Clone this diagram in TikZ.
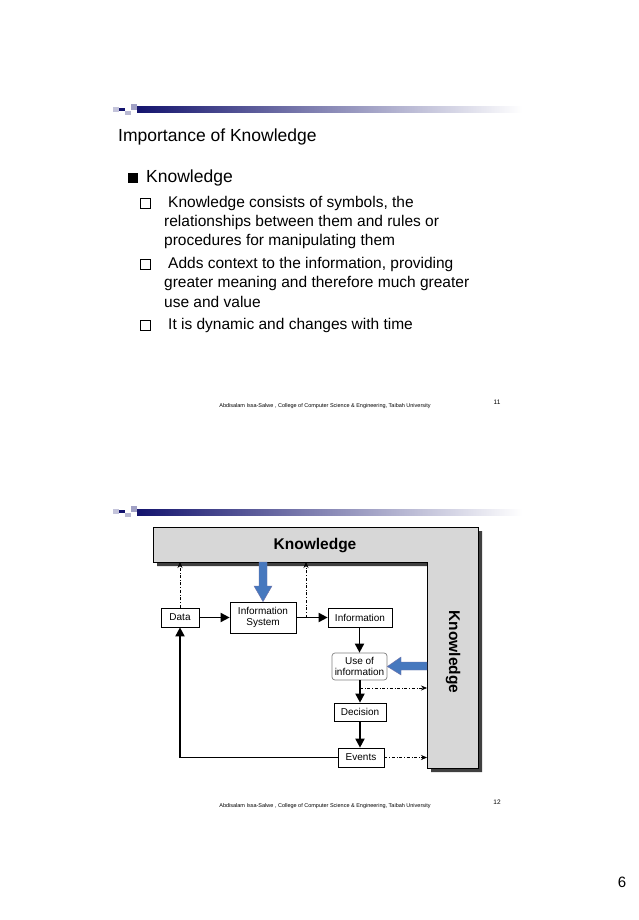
\documentclass[tikz,border=0pt]{standalone}
\usepackage{fontspec}
\setmainfont{Liberation Sans}
\usetikzlibrary{arrows.meta,calc}
\definecolor{navy}{RGB}{20,20,110}
\definecolor{boxgray}{RGB}{215,215,215}
\definecolor{arrblue}{RGB}{70,120,190}
\tikzset{
  flowbox/.style={draw=black,fill=white,line width=0.7pt,inner sep=0pt,font=\fontsize{10}{11}\selectfont,align=center},
  flow/.style={-{Triangle[length=9pt,width=9pt]},line width=1.8pt},
  dashflow/.style={-{Stealth[length=6pt,width=5pt]},dash dot,line width=0.6pt},
  bigarrow/.style={draw=navy!60,fill=arrblue,line width=0.4pt},
  bodytext/.style={anchor=west,inner sep=0pt,font=\fontsize{15.5}{18}\selectfont},
}
\newcommand{\hdr}[1]{%
  \fill[navy!25] (113,#1-3) rectangle (119,#1+2);
  \fill[navy] (119,#1-2) rectangle (125,#1+1);
  \fill[navy!30] (125,#1+1) rectangle (131,#1+5);
  \fill[navy!40] (131,#1-6) rectangle (137,#1);
  \shade[left color=navy,right color=white] (137,#1-3) rectangle (522,#1+3);
}
\begin{document}
\begin{tikzpicture}[x=1pt,y=-1pt]
\useasboundingbox[fill=white] (0,0) rectangle (638,920);
% slide 1
\hdr{110}
\node[bodytext,font=\fontsize{17.5}{20}\selectfont] (title) at (118,137) {Importance of Knowledge};
\fill (128,173) rectangle (138,183);
\node[bodytext,font=\fontsize{17.5}{20}\selectfont] (kn) at (146,178) {Knowledge};
\foreach \y in {203,264,325}{\draw[line width=0.5pt] (140,\y-5) rectangle (150,\y+5);}
\node[bodytext] (l1) at (168,203) {Knowledge consists of symbols, the};
\node[bodytext] (l2) at (164,222) {relationships between them and rules or};
\node[bodytext] (l3) at (164,241) {procedures for manipulating them};
\node[bodytext] (l4) at (168,264) {Adds context to the information, providing};
\node[bodytext] (l5) at (164,283) {greater meaning and therefore much greater};
\node[bodytext] (l6) at (164,302) {use and value};
\node[bodytext] (l7) at (168,325) {It is dynamic and changes with time};
\node[font=\fontsize{5.5}{6}\selectfont] (f1) at (325,406) {Abdisalam Issa-Salwe , College of Computer Science \& Engineering, Taibah University};
\node[font=\fontsize{6.5}{7}\selectfont] (n1) at (497,402) {11};
% slide 2
\hdr{512}
% L-shaped Knowledge frame with shadow
\fill[black!75] (157,531) -- (482,531) -- (482,772) -- (431,772) -- (431,566) -- (157,566) -- cycle;
\draw[fill=boxgray,line width=0.5pt] (153,527) -- (478,527) -- (478,768) -- (427,768) -- (427,562) -- (153,562) -- cycle;
\node[font=\bfseries\fontsize{15.5}{17}\selectfont] (ktop) at (315,546) {Knowledge};
\node[font=\bfseries\fontsize{15.5}{17}\selectfont,rotate=-90] (kside) at (453,652) {Knowledge};
\coordinate (topbar) at (263,562);
\coordinate (sidebar) at (427,666);
% boxes
\node[flowbox,minimum width=38pt,minimum height=19pt] (data) at (180,617.5) {Data};
\node[flowbox,minimum width=66pt,minimum height=31pt] (is) at (263,617.5) {Information\\System};
\node[flowbox,minimum width=64pt,minimum height=19pt] (info) at (360,617.5) {Information};
\node[flowbox,draw=black!50,rounded corners=3pt,minimum width=55pt,minimum height=27pt] (use) at (359.5,666.5) {Use of\\information};
\node[flowbox,minimum width=52pt,minimum height=18pt] (dec) at (360,712) {Decision};
\node[flowbox,minimum width=46pt,minimum height=19pt] (ev) at (361,757.5) {Events};
% flow arrows
\draw[flow] (data) -- (is);
\draw[flow] (is) -- (info);
\draw[flow] (info.south -| use) -- (use);
\draw[flow] (use.south -| dec) -- (dec);
\draw[flow] (dec) -- (ev.north -| dec);
\draw[flow] (ev.west) -- (ev.west -| data) -- (data.south);
% dashed
\draw[dashflow] (data.north) -- (data.north |- topbar);
\coordinate (split) at (306,617.5);
\draw[dashflow] (split) -- (split |- topbar);
\coordinate (usedash) at (360,688);
\draw[dashflow] (usedash) -- (usedash -| sidebar);
\draw[dashflow] (ev.east) -- (ev.east -| sidebar);
% blue arrows
\draw[bigarrow] ($(topbar)+(-4,0)$) -- ++(0,24) -- ++(-5,0) -- (is.north) -- ($(topbar)+(9,24)$) -- ++(-5,0) -- ++(0,-24) -- cycle;
\draw[bigarrow] ($(sidebar)+(0,-4)$) -- ++(-26,0) -- ++(0,-5) -- (use.east) -- ($(sidebar)+(-26,9)$) -- ++(0,-5) -- ++(26,0) -- cycle;
\node[font=\fontsize{5.5}{6}\selectfont] (f2) at (325,806) {Abdisalam Issa-Salwe , College of Computer Science \& Engineering, Taibah University};
\node[font=\fontsize{6.5}{7}\selectfont] (n2) at (497,802) {12};
\node[font=\fontsize{15}{17}\selectfont] (pg) at (622,882) {6};
\end{tikzpicture}
\end{document}
